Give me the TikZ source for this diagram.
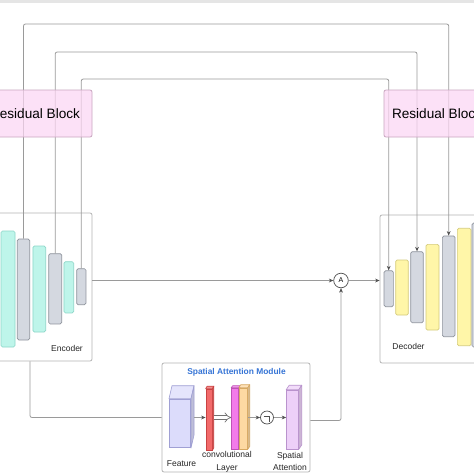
\documentclass[tikz,border=0pt]{standalone}
\usepackage{fontspec}
\setmainfont{Liberation Sans}
\usetikzlibrary{positioning,arrows.meta,calc}

\definecolor{linegray}{HTML}{9A9A9A}
\definecolor{tipgray}{HTML}{505050}
\definecolor{framegray}{HTML}{B4B4B4}
\definecolor{tealfill}{HTML}{BEF5EA}
\definecolor{tealline}{HTML}{8CD6C8}
\definecolor{grayfill}{HTML}{D4D8E0}
\definecolor{grayline}{HTML}{8E939C}
\definecolor{yelfill}{HTML}{FFF6A8}
\definecolor{yelline}{HTML}{D4CB7C}
\definecolor{pinkfill}{HTML}{FCD6F4}
\definecolor{pinkline}{HTML}{C9A6C0}
\definecolor{featfill}{HTML}{DCDCFB}
\definecolor{featline}{HTML}{A0A0D4}
\definecolor{convfill}{HTML}{F26A6A}
\definecolor{convline}{HTML}{C94242}
\definecolor{magfill}{HTML}{F37BEA}
\definecolor{magline}{HTML}{BF52B6}
\definecolor{orfill}{HTML}{FDD9A2}
\definecolor{orline}{HTML}{D7A963}
\definecolor{attfill}{HTML}{EDD0F8}
\definecolor{attline}{HTML}{B993CD}
\definecolor{titleblue}{HTML}{3574D6}

\tikzset{
  wire/.style={draw=linegray, line width=0.8pt, rounded corners=2pt},
  arr/.style={wire, -{Stealth[length=4.5pt,width=3.8pt,color=tipgray]}},
  dblarr/.style={draw=tipgray!80, line width=0.7pt, double=white, double distance=2.8pt, -{Implies}},
  frame/.style={draw=framegray, fill=white, line width=0.8pt, rounded corners=2pt, inner sep=0pt},
  bar/.style={rounded corners=1.5pt, inner sep=0pt, line width=0.7pt},
  block/.style={inner sep=0pt, line width=0.6pt},
  resbox/.style={draw=pinkline, fill=pinkfill, fill opacity=0.72, text opacity=1, line width=0.8pt,
    rounded corners=2pt, minimum height=47pt, font=\fontsize{13.6}{16}\selectfont},
  lbl/.style={inner sep=0pt, text=black!85, align=center, font=\fontsize{8.5}{12.7}\selectfont},
  circ/.style={circle, draw=tipgray, fill=white, line width=0.7pt, inner sep=0pt}
}

% depth faces of a block: node, dx, dy, fill, draw
\newcommand{\blockdepth}[5]{%
  \filldraw[fill=#4!75!white, draw=#5, line width=0.6pt, line join=round]
    (#1.north west) -- ++(#2,#3) -- ($(#1.north east)+(#2,#3)$) -- (#1.north east) -- cycle;
  \filldraw[fill=#4!85!black!95, draw=#5, line width=0.6pt, line join=round]
    (#1.north east) -- ++(#2,#3) -- ($(#1.south east)+(#2,#3)$) -- (#1.south east) -- cycle;
}

\begin{document}
\begin{tikzpicture}[x=1pt,y=-1pt]
\clip (0,0) rectangle (474,474);
\fill[white] (0,0) rectangle (474,474);
\fill[black!10] (0,0) rectangle (474,2.5);

% encoder and decoder frames
\node[frame, minimum width=112pt, minimum height=148pt] (encbox) at (36,287) {};
\node[frame, minimum width=120pt, minimum height=148pt] (decbox) at (440,289) {};
\node[lbl] (enclbl) at (67,348) {Encoder};
\node[lbl] (declbl) at (408.5,346.5) {Decoder};

% encoder bars
\foreach \cx/\cy/\w/\h/\fc/\dc [count=\i] in {
  8/289/14/116/tealfill/tealline, 23.5/289.5/12.4/101/grayfill/grayline,
  39.3/289/12.7/86/tealfill/tealline, 55.2/288.8/13/70.3/grayfill/grayline,
  68.8/287.3/9.7/51.3/tealfill/tealline, 81.3/286.7/9.3/36/grayfill/grayline} {
  \node[bar, fill=\fc, draw=\dc, minimum width=\w pt, minimum height=\h pt] (e\i) at (\cx,\cy) {};
}

% decoder bars
\foreach \cx/\cy/\w/\h/\fc/\dc [count=\i] in {
  388.7/288.7/9.3/36/grayfill/grayline, 402/287.5/12.6/55/yelfill/yelline,
  417/287.2/12.6/71/grayfill/grayline, 432.5/287.2/13/85.7/yelfill/yelline,
  448.7/286.3/12.7/100.7/grayfill/grayline, 464.2/287/13.7/117.4/yelfill/yelline,
  478.5/285/13/124/grayfill/grayline} {
  \node[bar, fill=\fc, draw=\dc, minimum width=\w pt, minimum height=\h pt] (d\i) at (\cx,\cy) {};
}

% skip connections
\coordinate (railA) at (0,24);
\coordinate (railB) at (0,52);
\coordinate (railC) at (0,79);
\draw[arr] (e2.north) -- (e2.north |- railA) -- (d5.north |- railA) -- (d5.north);
\draw[arr] (e4.north) -- (e4.north |- railB) -- (d3.north |- railB) -- (d3.north);
\draw[arr] (e6.north) -- (e6.north |- railC) -- (d1.north |- railC) -- (d1.north);

% residual blocks
\node[resbox, minimum width=114pt] (resL) at (35,113.5) {Residual Block};
\node[resbox, minimum width=106pt] (resR) at (437,113.5) {Residual Block};

% attention join
\node[circ, minimum size=14.6pt, font=\fontsize{7}{8}\selectfont] (att) at (341,280.5) {A};
\draw[arr] (encbox.east |- att) -- (att);
\draw[arr] (att) -- (decbox.west |- att);

% spatial attention module
\node[frame, minimum width=148pt, minimum height=109pt] (sam) at (236,417.5) {};
\node[inner sep=0pt, text=titleblue, font=\bfseries\fontsize{8.4}{10}\selectfont] (samtitle) at (236.5,372) {Spatial Attention Module};
\coordinate (tap) at (30,0);
\coordinate (flow) at (0,417.5);
\coordinate (outflow) at (0,420.5);
\draw[wire] (encbox.south -| tap) -- (tap |- flow) -- (sam.west |- flow);
\draw[arr] (sam.east |- outflow) -| (att.south);

% blocks inside the module
\node[block, fill=featfill, draw=featline, minimum width=21.4pt, minimum height=48.7pt] (feat) at (180,423.35) {};
\blockdepth{feat}{3}{-13}{featfill}{featline}
\node[block, fill=convfill, draw=convline, minimum width=6.2pt, minimum height=61pt] (conv) at (209,419.5) {};
\blockdepth{conv}{1.5}{-2.5}{convfill}{convline}
\node[block, fill=magfill, draw=magline, minimum width=7pt, minimum height=61pt] (mag) at (235,418.5) {};
\blockdepth{mag}{1.5}{-2}{magfill}{magline}
\node[block, fill=orfill, draw=orline, minimum width=8.4pt, minimum height=61pt, right=0pt of mag] (orng) {};
\blockdepth{orng}{2}{-3}{orfill}{orline}
\node[circ, minimum size=13pt] (neg) at (267,417.5) {};
\draw[tipgray, line width=0.7pt] ($(neg)+(-3.5,-1.5)$) -- ++(6,0) -- ++(0,5.5);
\node[block, fill=attfill, draw=attline, minimum width=12pt, minimum height=59pt] (satt) at (292.5,419.5) {};
\blockdepth{satt}{3}{-4.5}{attfill}{attline}

\draw[arr] ($(feat.east |- flow)+(3,0)$) -- (conv.west |- flow);
\draw[dblarr] ($(conv.east |- flow)+(1.5,0)$) -- (mag.west |- flow);
\draw[arr] (orng.east |- flow) -- (neg);
\draw[arr] (neg) -- (satt.west |- flow);

\node[lbl] (featlbl) at (181.5,463.3) {Feature};
\node[lbl] (convlbl) at (227,461.5) {convolutional\\Layer};
\node[lbl] (sattlbl) at (290,461.5) {Spatial\\Attention};
\end{tikzpicture}
\end{document}
